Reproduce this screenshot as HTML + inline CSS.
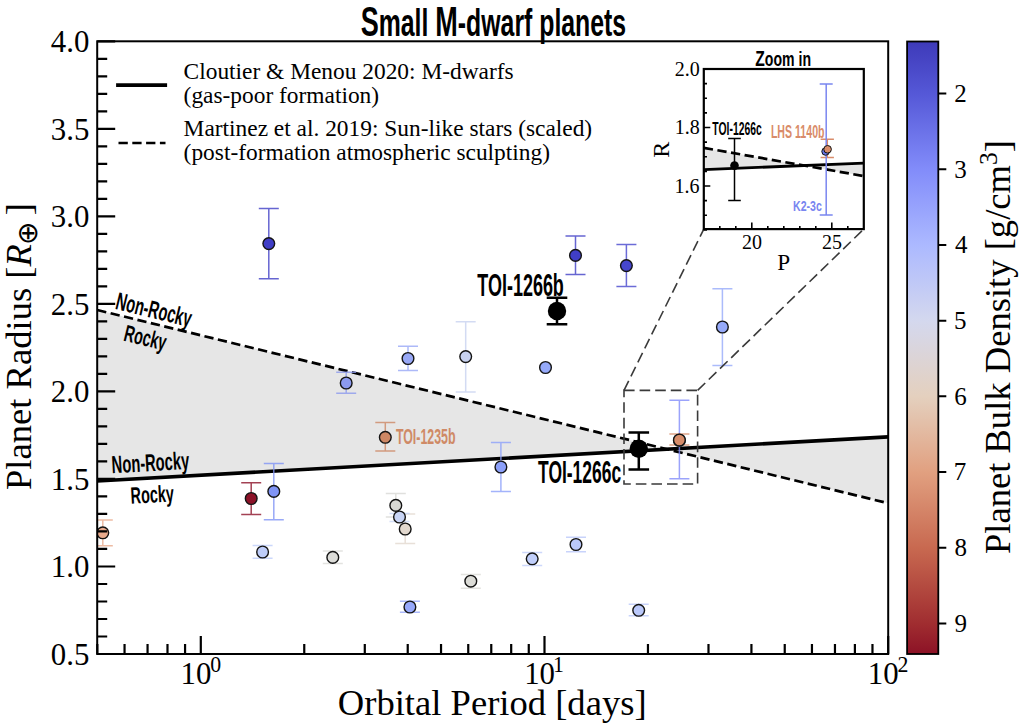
<!DOCTYPE html><html><head><meta charset="utf-8"><style>html,body{margin:0;padding:0;background:#fff;}svg{display:block;}</style></head><body>
<svg width="1020" height="726" viewBox="0 0 1020 726">
<defs><clipPath id="ax"><rect x="97.2" y="41.3" width="791" height="612.7"/></clipPath>
<linearGradient id="cb" x1="0" y1="0" x2="0" y2="1">
<stop offset="0.0000" stop-color="#3e3ab9"/>
<stop offset="0.0853" stop-color="#5558d7"/>
<stop offset="0.2089" stop-color="#828cfa"/>
<stop offset="0.3325" stop-color="#acb9ff"/>
<stop offset="0.4561" stop-color="#d4d8ee"/>
<stop offset="0.5797" stop-color="#e4d0be"/>
<stop offset="0.7033" stop-color="#e1a080"/>
<stop offset="0.8269" stop-color="#c86950"/>
<stop offset="0.9506" stop-color="#a02d30"/>
<stop offset="1.0000" stop-color="#8c1226"/>
</linearGradient>
<clipPath id="inax"><rect x="703.8" y="69" width="160" height="160"/></clipPath>
</defs>
<rect width="1020" height="726" fill="#fff"/>
<g clip-path="url(#ax)">
<polygon points="97.2,310 667.01,449.2 97.2,481" fill="#e6e6e6"/>
<polygon points="667.01,449.2 888.2,436.86 888.2,503.24" fill="#e6e6e6"/>
<line x1="97.2" y1="310" x2="888.2" y2="503.24" stroke="#000" stroke-width="2.7" stroke-dasharray="9.3 4.5"/>
<line x1="97.2" y1="481" x2="888.2" y2="436.86" stroke="#000" stroke-width="3.6"/>
</g>
<g clip-path="url(#ax)">
<path d="M102.8 520.1V545.7M92.8 520.1h20M92.8 545.7h20" stroke="#e8aa8c" stroke-width="1.5" fill="none" opacity="0.8"/>
<path d="M251.2 482.8V514.5M241.2 482.8h20M241.2 514.5h20" stroke="#8c1228" stroke-width="1.5" fill="none" opacity="0.8"/>
<path d="M273.8 463.6V519.8M263.8 463.6h20M263.8 519.8h20" stroke="#8094f5" stroke-width="1.5" fill="none" opacity="0.8"/>
<path d="M262.6 545.4V558.3M252.6 545.4h20M252.6 558.3h20" stroke="#becdfa" stroke-width="1.5" fill="none" opacity="0.8"/>
<path d="M332.8 550.9V563.6M322.8 550.9h20M322.8 563.6h20" stroke="#dcdcd8" stroke-width="1.5" fill="none" opacity="0.8"/>
<path d="M268.8 208.4V278.7M258.8 208.4h20M258.8 278.7h20" stroke="#403ec6" stroke-width="1.5" fill="none" opacity="0.8"/>
<path d="M346.2 372.3V393.3M336.2 372.3h20M336.2 393.3h20" stroke="#8c9aee" stroke-width="1.5" fill="none" opacity="0.8"/>
<path d="M385.3 422.4V450.9M375.3 422.4h20M375.3 450.9h20" stroke="#cd8764" stroke-width="1.5" fill="none" opacity="0.8"/>
<path d="M408 346.3V370.5M398 346.3h20M398 370.5h20" stroke="#98a8f6" stroke-width="1.5" fill="none" opacity="0.8"/>
<path d="M465.7 321.7V391.9M455.7 321.7h20M455.7 391.9h20" stroke="#c8d2f0" stroke-width="1.5" fill="none" opacity="0.8"/>
<path d="M395.8 493.4V517M385.8 493.4h20M385.8 517h20" stroke="#d8d8d4" stroke-width="1.5" fill="none" opacity="0.8"/>
<path d="M405.2 514V543.5M395.2 514h20M395.2 543.5h20" stroke="#e2d8ce" stroke-width="1.5" fill="none" opacity="0.8"/>
<path d="M399.5 513.6V521.4M389.5 513.6h20M389.5 521.4h20" stroke="#c8d4f5" stroke-width="1.5" fill="none" opacity="0.8"/>
<path d="M409.9 601.2V612.2M399.9 601.2h20M399.9 612.2h20" stroke="#96a8fa" stroke-width="1.5" fill="none" opacity="0.8"/>
<path d="M470.8 574.4V588.2M460.8 574.4h20M460.8 588.2h20" stroke="#dcdcd7" stroke-width="1.5" fill="none" opacity="0.8"/>
<path d="M500.9 442.6V491.5M490.9 442.6h20M490.9 491.5h20" stroke="#8ca0fa" stroke-width="1.5" fill="none" opacity="0.8"/>
<path d="M532.2 552.5V565.4M522.2 552.5h20M522.2 565.4h20" stroke="#c0cefa" stroke-width="1.5" fill="none" opacity="0.8"/>
<path d="M576 537.2V551.8M566 537.2h20M566 551.8h20" stroke="#bac8fa" stroke-width="1.5" fill="none" opacity="0.8"/>
<path d="M575.5 236.1V274.5M565.5 236.1h20M565.5 274.5h20" stroke="#403ec6" stroke-width="1.5" fill="none" opacity="0.8"/>
<path d="M626.4 244.5V286.6M616.4 244.5h20M616.4 286.6h20" stroke="#4646cd" stroke-width="1.5" fill="none" opacity="0.8"/>
<path d="M638.7 604.3V615.7M628.7 604.3h20M628.7 615.7h20" stroke="#bac8fa" stroke-width="1.5" fill="none" opacity="0.8"/>
<path d="M722.4 288.8V365.6M712.4 288.8h20M712.4 365.6h20" stroke="#96aafa" stroke-width="1.5" fill="none" opacity="0.8"/>
<path d="M679.4 400.3V478.8M669.4 400.3h20M669.4 478.8h20" stroke="#828cfa" stroke-width="1.5" fill="none" opacity="0.8"/>
<path d="M679.4 434V445M669.4 434h20M669.4 445h20" stroke="#d78c69" stroke-width="1.5" fill="none" opacity="0.8"/>
<circle cx="102.8" cy="532.8" r="5.85" fill="#e8aa8c" stroke="#141414" stroke-width="1.4"/>
<circle cx="251.2" cy="498.5" r="5.85" fill="#8c1228" stroke="#141414" stroke-width="1.4"/>
<circle cx="273.8" cy="491.4" r="5.85" fill="#8094f5" stroke="#141414" stroke-width="1.4"/>
<circle cx="262.6" cy="552" r="5.85" fill="#becdfa" stroke="#141414" stroke-width="1.4"/>
<circle cx="332.8" cy="557.4" r="5.85" fill="#dcdcd8" stroke="#141414" stroke-width="1.4"/>
<circle cx="268.8" cy="243.6" r="5.85" fill="#403ec6" stroke="#141414" stroke-width="1.4"/>
<circle cx="346.2" cy="383" r="5.85" fill="#8c9aee" stroke="#141414" stroke-width="1.4"/>
<circle cx="385.3" cy="437.3" r="5.85" fill="#cd8764" stroke="#141414" stroke-width="1.4"/>
<circle cx="408" cy="358.5" r="5.85" fill="#98a8f6" stroke="#141414" stroke-width="1.4"/>
<circle cx="465.7" cy="356.6" r="5.85" fill="#c8d2f0" stroke="#141414" stroke-width="1.4"/>
<circle cx="395.8" cy="505.4" r="5.85" fill="#d8d8d4" stroke="#141414" stroke-width="1.4"/>
<circle cx="405.2" cy="529" r="5.85" fill="#e2d8ce" stroke="#141414" stroke-width="1.4"/>
<circle cx="399.5" cy="517" r="5.85" fill="#c8d4f5" stroke="#141414" stroke-width="1.4"/>
<circle cx="409.9" cy="607" r="5.85" fill="#96a8fa" stroke="#141414" stroke-width="1.4"/>
<circle cx="470.8" cy="581.2" r="5.85" fill="#dcdcd7" stroke="#141414" stroke-width="1.4"/>
<circle cx="500.9" cy="467" r="5.85" fill="#8ca0fa" stroke="#141414" stroke-width="1.4"/>
<circle cx="532.2" cy="558.8" r="5.85" fill="#c0cefa" stroke="#141414" stroke-width="1.4"/>
<circle cx="545.5" cy="367.5" r="5.85" fill="#96aafa" stroke="#141414" stroke-width="1.4"/>
<circle cx="576" cy="544.5" r="5.85" fill="#bac8fa" stroke="#141414" stroke-width="1.4"/>
<circle cx="575.5" cy="255.4" r="5.85" fill="#403ec6" stroke="#141414" stroke-width="1.4"/>
<circle cx="626.4" cy="265.6" r="5.85" fill="#4646cd" stroke="#141414" stroke-width="1.4"/>
<circle cx="638.7" cy="610.3" r="5.85" fill="#bac8fa" stroke="#141414" stroke-width="1.4"/>
<circle cx="722.4" cy="327" r="5.85" fill="#96aafa" stroke="#141414" stroke-width="1.4"/>
<circle cx="679.4" cy="440.3" r="5.85" fill="#828cfa" stroke="#141414" stroke-width="1.4"/>
<circle cx="679.4" cy="440" r="5.85" fill="#d78c69" stroke="#141414" stroke-width="1.4"/>
<path d="M557 297.8V324.2M546.7 297.8h20.6M546.7 324.2h20.6" stroke="#000" stroke-width="2.5" fill="none"/>
<circle cx="557" cy="311" r="9.2" fill="#000"/>
<path d="M638.8 432.6V469.4M628.5 432.6h20.6M628.5 469.4h20.6" stroke="#000" stroke-width="2.5" fill="none"/>
<circle cx="638.8" cy="448.8" r="9.2" fill="#000"/>
</g>
<rect x="624" y="390.4" width="73.6" height="93.6" fill="none" stroke="#3a3a3a" stroke-width="1.6" stroke-dasharray="10.6 5"/>
<line x1="624" y1="390.4" x2="703.8" y2="229.1" stroke="#3a3a3a" stroke-width="1.6" stroke-dasharray="10.6 5"/>
<line x1="697.6" y1="390.4" x2="863.8" y2="229.1" stroke="#3a3a3a" stroke-width="1.6" stroke-dasharray="10.6 5"/>
<path d="M97.2 654.01h18M97.2 566.48h18M97.2 478.95h18M97.2 391.42h18M97.2 303.89h18M97.2 216.36h18M97.2 128.83h18M97.2 41.3h18M97.2 636.5h10M97.2 619h10M97.2 601.49h10M97.2 583.99h10M97.2 548.97h10M97.2 531.47h10M97.2 513.96h10M97.2 496.46h10M97.2 461.44h10M97.2 443.94h10M97.2 426.43h10M97.2 408.93h10M97.2 373.91h10M97.2 356.41h10M97.2 338.9h10M97.2 321.4h10M97.2 286.38h10M97.2 268.88h10M97.2 251.37h10M97.2 233.87h10M97.2 198.85h10M97.2 181.35h10M97.2 163.84h10M97.2 146.34h10M97.2 111.32h10M97.2 93.82h10M97.2 76.31h10M97.2 58.81h10M200.8 654v-18M544.5 654v-18M888.2 654v-18M97.34 654v-10M124.55 654v-10M147.56 654v-10M167.49 654v-10M185.07 654v-10M304.26 654v-10M364.79 654v-10M407.73 654v-10M441.04 654v-10M468.25 654v-10M491.26 654v-10M511.19 654v-10M528.77 654v-10M647.96 654v-10M708.49 654v-10M751.43 654v-10M784.74 654v-10M811.95 654v-10M834.96 654v-10M854.89 654v-10M872.47 654v-10" stroke="#000" stroke-width="2.2" fill="none"/>
<rect x="97.2" y="41.3" width="791" height="612.7" fill="none" stroke="#000" stroke-width="2"/>
<text transform="translate(50.77,664.82) scale(0.950,1)" font-family='"Liberation Serif", serif' font-size="32.5" fill="#000">0.5</text>
<text transform="translate(50.77,577.29) scale(0.950,1)" font-family='"Liberation Serif", serif' font-size="32.5" fill="#000">1.0</text>
<text transform="translate(50.77,489.76) scale(0.950,1)" font-family='"Liberation Serif", serif' font-size="32.5" fill="#000">1.5</text>
<text transform="translate(50.77,402.23) scale(0.950,1)" font-family='"Liberation Serif", serif' font-size="32.5" fill="#000">2.0</text>
<text transform="translate(50.77,314.7) scale(0.950,1)" font-family='"Liberation Serif", serif' font-size="32.5" fill="#000">2.5</text>
<text transform="translate(50.77,227.17) scale(0.950,1)" font-family='"Liberation Serif", serif' font-size="32.5" fill="#000">3.0</text>
<text transform="translate(50.77,139.64) scale(0.950,1)" font-family='"Liberation Serif", serif' font-size="32.5" fill="#000">3.5</text>
<text transform="translate(50.77,52.11) scale(0.950,1)" font-family='"Liberation Serif", serif' font-size="32.5" fill="#000">4.0</text>
<text transform="translate(180.45,683.9) scale(0.950,1)" font-family='"Liberation Serif", serif' font-size="32.5" fill="#000">10</text>
<text transform="translate(210.25,672.3) scale(0.950,1)" font-family='"Liberation Serif", serif' font-size="23" fill="#000">0</text>
<text transform="translate(524.14,683.9) scale(0.950,1)" font-family='"Liberation Serif", serif' font-size="32.5" fill="#000">10</text>
<text transform="translate(552.9,672.3) scale(0.950,1)" font-family='"Liberation Serif", serif' font-size="23" fill="#000">1</text>
<text transform="translate(867.85,683.9) scale(0.950,1)" font-family='"Liberation Serif", serif' font-size="32.5" fill="#000">10</text>
<text transform="translate(897.55,672.3) scale(0.950,1)" font-family='"Liberation Serif", serif' font-size="23" fill="#000">2</text>
<text transform="translate(31,490) rotate(-90)" font-family='"Liberation Serif", serif' font-size="36.6">Planet Radius [<tspan font-style="italic">R</tspan><tspan font-size="27.5" dx="-1" dy="5.5">&#8853;</tspan><tspan dx="7" dy="-5.5">]</tspan></text>
<text x="337.8" y="715.2" font-family='"Liberation Serif", serif' font-size="36.6" fill="#000">Orbital Period [days]</text>
<line x1="116.1" y1="85.1" x2="167.1" y2="85.1" stroke="#000" stroke-width="3.75"/>
<line x1="118.5" y1="143" x2="165.5" y2="143" stroke="#000" stroke-width="2.7" stroke-dasharray="9.3 4.5"/>
<text x="183.6" y="78.7" font-family='"Liberation Serif", serif' font-size="23.4">Cloutier &amp; Menou 2020: M-dwarfs</text>
<text x="183.6" y="102.9" font-family='"Liberation Serif", serif' font-size="23.4">(gas-poor formation)</text>
<text x="183.6" y="135.5" font-family='"Liberation Serif", serif' font-size="23.4">Martinez et al. 2019: Sun-like stars (scaled)</text>
<text x="183.6" y="159.8" font-family='"Liberation Serif", serif' font-size="23.4">(post-formation atmospheric sculpting)</text>
<text transform="translate(360.64,36.1) scale(0.6369,1)" font-family='"Liberation Sans", sans-serif' font-weight="bold" fill="#000"><tspan font-size="42.5">S</tspan><tspan font-size="39">mall </tspan><tspan font-size="42.5">M</tspan><tspan font-size="39">-dwarf planets</tspan></text>
<text transform="translate(477.37,296.1) scale(0.5748,1)" font-family='"Liberation Sans", sans-serif' font-weight="bold" font-size="31.25" fill="#000">TOI-1266b</text>
<text transform="translate(538.03,483.2) scale(0.5667,1)" font-family='"Liberation Sans", sans-serif' font-weight="bold" font-size="30.81" fill="#000">TOI-1266c</text>
<text transform="translate(395.88,444.2) scale(0.5836,1)" font-family='"Liberation Sans", sans-serif' font-weight="bold" font-size="21.22" fill="#cf8a66">TOI-1235b</text>
<text transform="translate(115.5,309.1) rotate(13.73) scale(0.5914,1) translate(-1.7,0)" font-family='"Liberation Sans", sans-serif' font-weight="bold" font-size="24.71" fill="#000">Non-Rocky</text>
<text transform="translate(123.8,340.7) rotate(13.73) scale(0.6032,1) translate(-1.6,0)" font-family='"Liberation Sans", sans-serif' font-weight="bold" font-size="23.55" fill="#000">Rocky</text>
<text transform="translate(113.1,473.2) rotate(-3.19) scale(0.5953,1) translate(-1.7,0)" font-family='"Liberation Sans", sans-serif' font-weight="bold" font-size="24.71" fill="#000">Non-Rocky</text>
<text transform="translate(132.1,503.8) rotate(-3.19) scale(0.6105,1) translate(-1.6,0)" font-family='"Liberation Sans", sans-serif' font-weight="bold" font-size="23.55" fill="#000">Rocky</text>
<rect x="703.8" y="69" width="160" height="160.1" fill="#fff"/>
<g clip-path="url(#inax)">
<polygon points="703.8,147.87 804.14,165.55 703.8,169.59" fill="#e6e6e6"/>
<polygon points="804.14,165.55 863.8,163.15 863.8,176.06" fill="#e6e6e6"/>
<line x1="703.8" y1="147.87" x2="863.8" y2="176.06" stroke="#000" stroke-width="2.7" stroke-dasharray="9.3 4.5"/>
<line x1="703.8" y1="169.59" x2="863.8" y2="163.15" stroke="#000" stroke-width="2.8"/>
<path d="M827.3 139.3V157.6M820.6 139.3h13.3M820.6 157.6h13.3" stroke="#d98c6a" stroke-width="1.5" fill="none"/>
<path d="M826.2 84V215M819.7 84h13M819.7 215h13" stroke="#7a86f0" stroke-width="1.5" fill="none"/>
<path d="M734.5 138.5V200.5M728.2 138.5h12.6M728.2 200.5h12.6" stroke="#000" stroke-width="1.5" fill="none"/>
<circle cx="734.5" cy="165.6" r="4.3" fill="#000"/>
<circle cx="825.6" cy="151.5" r="3.8" fill="#6470e0" stroke="#141414" stroke-width="1"/>
<circle cx="827.6" cy="149.3" r="3.8" fill="#d98c6a" stroke="#141414" stroke-width="1"/>
</g>
<path d="M703.8 186h6.5M703.8 127.5h6.5M703.8 69h6.5M703.8 229.88h3.2M703.8 215.25h3.2M703.8 200.62h3.2M703.8 171.38h3.2M703.8 156.75h3.2M703.8 142.12h3.2M703.8 112.87h3.2M703.8 98.25h3.2M703.8 83.63h3.2M751.8 229.1v-6.5M831.8 229.1v-6.5M719.8 229.1v-3.2M735.8 229.1v-3.2M767.8 229.1v-3.2M783.8 229.1v-3.2M799.8 229.1v-3.2M815.8 229.1v-3.2M847.8 229.1v-3.2" stroke="#000" stroke-width="1.6" fill="none"/>
<rect x="703.8" y="69" width="160" height="160.1" fill="none" stroke="#000" stroke-width="2.2"/>
<text x="674.7" y="75.65" font-family='"Liberation Serif", serif' font-size="20" fill="#000">2.0</text>
<text x="674.7" y="134.15" font-family='"Liberation Serif", serif' font-size="20" fill="#000">1.8</text>
<text x="674.5" y="192.65" font-family='"Liberation Serif", serif' font-size="20" fill="#000">1.6</text>
<text x="741.95" y="249.4" font-family='"Liberation Serif", serif' font-size="20" fill="#000">20</text>
<text x="821.95" y="249.4" font-family='"Liberation Serif", serif' font-size="20" fill="#000">25</text>
<text x="777.2" y="270.2" font-family='"Liberation Serif", serif' font-size="23.2" fill="#000">P</text>
<text transform="translate(669.2,157.7) rotate(-90)" font-family='"Liberation Serif", serif' font-size="24">R</text>
<text transform="translate(755.32,66) scale(0.6877,1)" font-family='"Liberation Sans", sans-serif' font-weight="bold" fill="#000"><tspan font-size="22.7">Z</tspan><tspan font-size="20.5">oom in</tspan></text>
<text transform="translate(712.29,135.4) scale(0.5721,1)" font-family='"Liberation Sans", sans-serif' font-weight="bold" font-size="18.17" fill="#000">TOI-1266c</text>
<text transform="translate(770.9,138.3) scale(0.5838,1)" font-family='"Liberation Sans", sans-serif' font-weight="bold" font-size="18.17" fill="#d98c6a">LHS 1140b</text>
<text transform="translate(793.07,210.6) scale(0.7289,1)" font-family='"Liberation Sans", sans-serif' font-weight="bold" font-size="14.53" fill="#7a86f0">K2-3c</text>
<rect x="907.1" y="41.5" width="31.2" height="612.5" fill="url(#cb)" stroke="#000" stroke-width="1.8"/>
<text x="954.3" y="101.91" font-family='"Liberation Serif", serif' font-size="25" fill="#000">2</text>
<text x="954.2" y="177.6" font-family='"Liberation Serif", serif' font-size="25" fill="#000">3</text>
<text x="954.9" y="253.29" font-family='"Liberation Serif", serif' font-size="25" fill="#000">4</text>
<text x="953.9" y="328.98" font-family='"Liberation Serif", serif' font-size="25" fill="#000">5</text>
<text x="954.3" y="404.67" font-family='"Liberation Serif", serif' font-size="25" fill="#000">6</text>
<text x="953.8" y="480.36" font-family='"Liberation Serif", serif' font-size="25" fill="#000">7</text>
<text x="954.4" y="556.05" font-family='"Liberation Serif", serif' font-size="25" fill="#000">8</text>
<text x="954.6" y="631.74" font-family='"Liberation Serif", serif' font-size="25" fill="#000">9</text>
<path d="M938.3 93.6h8M938.3 169.29h8M938.3 244.98h8M938.3 320.67h8M938.3 396.36h8M938.3 472.05h8M938.3 547.74h8M938.3 623.43h8" stroke="#000" stroke-width="2" fill="none"/>
<text transform="translate(1009.8,554.1) rotate(-90)" font-family='"Liberation Serif", serif' font-size="36.6">Planet Bulk Density [g/cm<tspan font-size="25.6" dy="-13">3</tspan><tspan dy="13">]</tspan></text>
</svg></body></html>
